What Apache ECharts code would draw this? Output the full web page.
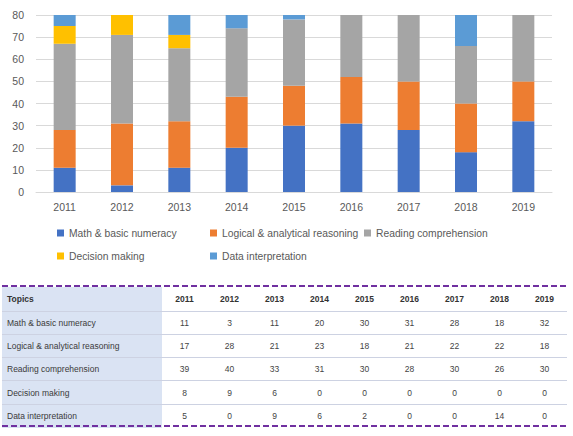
<!DOCTYPE html>
<html>
<head>
<meta charset="utf-8">
<script src="https://cdn.jsdelivr.net/npm/echarts@6/dist/echarts.min.js"></script>
<style>
  html, body { margin:0; padding:0; background:#fff; width:573px; height:436px; overflow:hidden; }
  #chart { position:absolute; left:0; top:0; width:573px; height:270px; }
  #table { position:absolute; left:0; top:0; width:573px; height:436px; font-family:"Liberation Sans", Arial, sans-serif; font-size:8.5px; color:#3a3a3a; }
  .cell { position:absolute; display:flex; align-items:center; white-space:nowrap; }
  .num { justify-content:center; color:#444; }
  .hdr { font-weight:bold; color:#333; }
</style>
</head>
<body>
<div id="table"></div>
<div id="chart"></div>
<script>
const years = ['2011','2012','2013','2014','2015','2016','2017','2018','2019'];
const seriesNames = ['Math & basic numeracy','Logical & analytical reasoning','Reading comprehension','Decision making','Data interpretation'];
const mathBasic = [11,3,11,20,30,31,28,18,32];
const logicalReasoning = [17,28,21,23,18,21,22,22,18];
const readingComp = [39,40,33,31,30,28,30,26,30];
const decisionMaking = [8,9,6,0,0,0,0,0,0];
const dataInterp = [5,0,9,6,2,0,0,14,0];
const yTicks = [0,10,20,30,40,50,60,70,80];
const tableHeader = 'Topics';

const values = [mathBasic, logicalReasoning, readingComp, decisionMaking, dataInterp];
const colors = ['#4472c4','#ed7d31','#a5a5a5','#ffc000','#5b9bd5'];

const chart = echarts.init(document.getElementById('chart'), null, {renderer:'svg'});
const legendPos = [[57,228],[210,228],[364,228],[57,251],[210,251]];
const txt = {fontFamily:'"Liberation Sans", Arial, sans-serif', color:'#595959'};

chart.setOption({
  animation:false,
  grid:{left:36, right:21, top:15, bottom:78, containLabel:false},
  xAxis:{type:'category', data:years,
    axisLine:{lineStyle:{color:'#d9d9d9'}}, axisTick:{show:false},
    axisLabel:Object.assign({fontSize:10.5, margin:9}, txt)},
  yAxis:{type:'value', min:yTicks[0], max:yTicks[yTicks.length-1], interval:10,
    axisLine:{show:false}, axisTick:{show:false},
    splitLine:{lineStyle:{color:'#d9d9d9'}},
    axisLabel:Object.assign({fontSize:10.5, margin:12}, txt)},
  legend: seriesNames.map((n,i)=>({data:[n], left:legendPos[i][0], top:legendPos[i][1],
    itemWidth:7, itemHeight:7, icon:'rect', padding:0,
    textStyle:Object.assign({fontSize:10.3}, txt)})),
  series: seriesNames.map((n,i)=>({name:n, type:'bar', stack:'total', data:values[i],
    barWidth:22, itemStyle:{color:colors[i]}}))
});

// Table
const t = document.getElementById('table');
const left = 2, firstW = 160, colW = 45, right = 567;
const headTop = 287, headH = 24, rowH = 23.3;
function add(html, x, y, w, h, cls, extra) {
  const d = document.createElement('div');
  d.className = 'cell ' + (cls||'');
  d.style.left = x+'px'; d.style.top = y+'px'; d.style.width = w+'px'; d.style.height = h+'px';
  if (extra) Object.assign(d.style, extra);
  d.textContent = html;
  t.appendChild(d);
  return d;
}
const bottom = headTop + headH + rowH*seriesNames.length;
add('', left, headTop, firstW, bottom-headTop, '', {background:'#dae3f3'});
for (let r=0; r<seriesNames.length; r++) {
  const y = headTop + headH + rowH*r;
  add('', left, y-0.5, right-left, 1, '', {background:'#cdd2e2'});
}
add(tableHeader, left+5, headTop, firstW-5, headH, 'hdr');
years.forEach((yr,j)=> add(yr, left+firstW+colW*j, headTop, colW, headH, 'num hdr'));
seriesNames.forEach((n,r)=>{
  const y = headTop + headH + rowH*r;
  add(n, left+5, y, firstW-5, rowH, '');
  values[r].forEach((v,j)=> add(String(v), left+firstW+colW*j, y, colW, rowH, 'num'));
});
const svgNS='http://www.w3.org/2000/svg';
const svg=document.createElementNS(svgNS,'svg');
svg.setAttribute('width','573'); svg.setAttribute('height','436');
svg.style.position='absolute'; svg.style.left='0'; svg.style.top='0';
[286, 426].forEach(y=>{
  const l=document.createElementNS(svgNS,'line');
  l.setAttribute('x1',left); l.setAttribute('x2',right);
  l.setAttribute('y1',y); l.setAttribute('y2',y);
  l.setAttribute('stroke','#7030a0'); l.setAttribute('stroke-width','2');
  l.setAttribute('stroke-dasharray','6 3');
  svg.appendChild(l);
});
t.appendChild(svg);
</script>
</body>
</html>
